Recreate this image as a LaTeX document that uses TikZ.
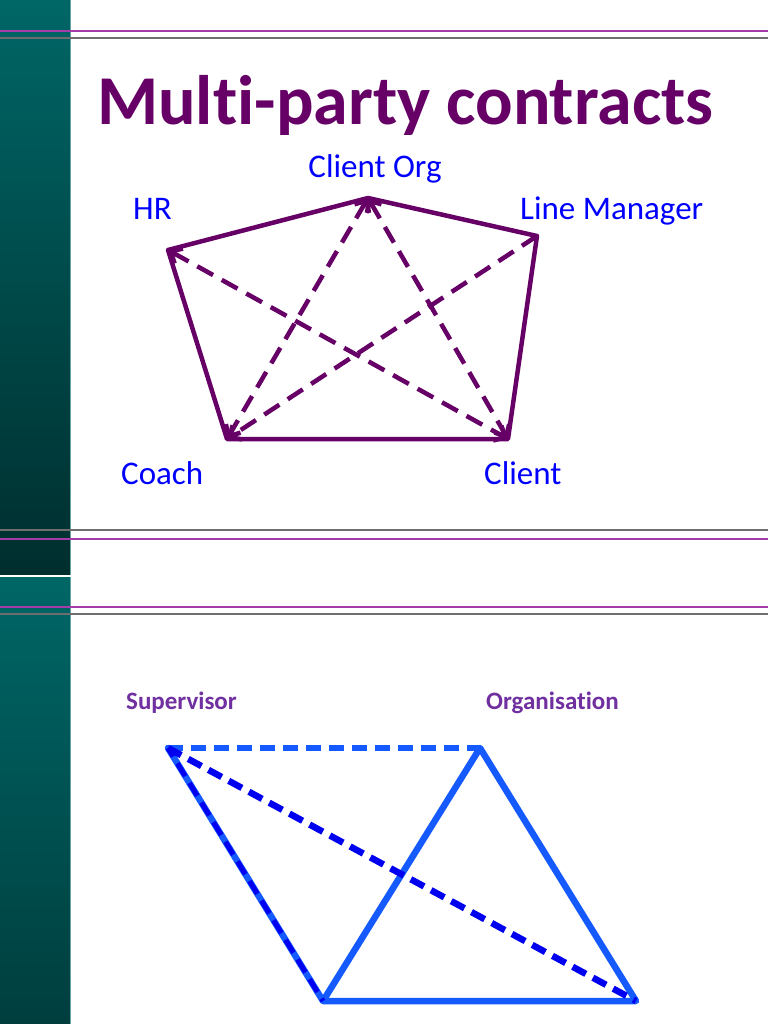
\documentclass[tikz,border=0pt]{standalone}
\usepackage{fontspec}
\setmainfont[Ligatures={NoCommon,NoContextual},RawFeature={-liga;-clig;-calt;-dlig}]{Carlito}
\usetikzlibrary{arrows.meta}
\definecolor{barteal}{RGB}{0,102,102}
\definecolor{bardark}{RGB}{0,46,46}
\definecolor{bardark2}{RGB}{0,62,62}
\definecolor{ruleviolet}{RGB}{165,60,170}
\definecolor{rulegray}{RGB}{110,110,110}
\definecolor{plum}{RGB}{102,0,102}
\definecolor{lblue}{RGB}{0,0,255}
\definecolor{sblue}{RGB}{20,90,255}
\definecolor{dblue}{RGB}{0,0,240}
\definecolor{violetlbl}{RGB}{112,48,160}
\tikzset{
  lbl/.style={anchor=base west, inner sep=0pt, text=lblue, font=\fontsize{33}{36}\selectfont},
  lbl2/.style={anchor=base west, inner sep=0pt, text=violetlbl, font=\bfseries\fontsize{25}{28}\selectfont},
  solidp/.style={draw=plum, line width=4.5pt, line join=round, line cap=round},
  dashp/.style={draw=plum, line width=4.5pt, dash pattern=on 18pt off 10pt},
  tipp/.style={>={Straight Barb[length=9pt,width=17pt,line width=4.5pt]}},
  solidb/.style={draw=sblue, line width=6.5pt, line join=round, line cap=round},
  dashb/.style={line width=6.5pt, dash pattern=on 15pt off 8pt},
}
\begin{document}
\begin{tikzpicture}[x=1pt,y=-1pt]
\useasboundingbox (0,0) rectangle (768,1024);
% slide backgrounds
\fill[white] (0,0) rectangle (768,1024);
\shade[top color=barteal, bottom color=bardark] (0,0) rectangle (70,575);
\shade[top color=barteal, bottom color=bardark2] (0,577) rectangle (70,1024);
\fill[barteal!60!white] (70,0) rectangle (71,575);
\fill[barteal!60!white] (70,577) rectangle (71,1024);
\fill[white] (0,575) rectangle (768,577);
% rules
\draw[ruleviolet, line width=1.3pt] (0,31) -- (768,31);
\draw[rulegray, line width=1.6pt] (0,38) -- (768,38);
\draw[rulegray, line width=1.6pt] (0,530) -- (768,530);
\draw[ruleviolet, line width=1.3pt] (0,539) -- (768,539);
\draw[ruleviolet, line width=1.3pt] (0,607) -- (768,607);
\draw[rulegray, line width=1.6pt] (0,614) -- (768,614);
% title
\node[anchor=base west, inner sep=0pt, text=plum, font=\bfseries\fontsize{70}{80}\selectfont] (title) at (97,125) {Mult\kern0pt i-party contracts};
% pentagon
\coordinate (org) at (368,198);
\coordinate (hr) at (168,250);
\coordinate (lm) at (537,236);
\coordinate (coach) at (227,439);
\coordinate (client) at (508,439);
\draw[solidp] (hr) -- (org) -- (lm) -- (client) -- (coach) -- cycle;
\draw[dashp, tipp, <->] (org) -- (coach);
\draw[dashp, tipp, <->] (org) -- (client);
\draw[dashp, tipp, <->] (hr) -- (client);
\draw[dashp, tipp, ->] (lm) -- (coach);
\node[anchor=base, inner sep=0pt, text=lblue, font=\fontsize{33}{36}\selectfont] (lorg) at (375,178) {Client Org};
\node[lbl] (lhr) at (133,219) {HR};
\node[lbl] (llm) at (520,219) {Line Manager};
\node[lbl] (lcoach) at (121,484) {Coach};
\node[lbl] (lclient) at (484,484) {Client};
% second diagram
\coordinate (sup) at (168,748);
\coordinate (orgn) at (480,748);
\coordinate (bl) at (323,1001);
\coordinate (br) at (636,1001);
\draw[solidb] (sup) -- (bl) -- (orgn) -- (br) -- (bl);
\draw[dashb, draw=sblue] (sup) -- (orgn);
\draw[dashb, draw=dblue, dash phase=5pt, line width=5pt] (sup) -- (bl);
\draw[dashb, draw=dblue] (sup) -- (br);
\node[lbl2] (lsup) at (126,709) {Supervisor};
\node[lbl2] (lorgn) at (486,709) {Organisat\kern0pt ion};
\end{tikzpicture}
\end{document}
